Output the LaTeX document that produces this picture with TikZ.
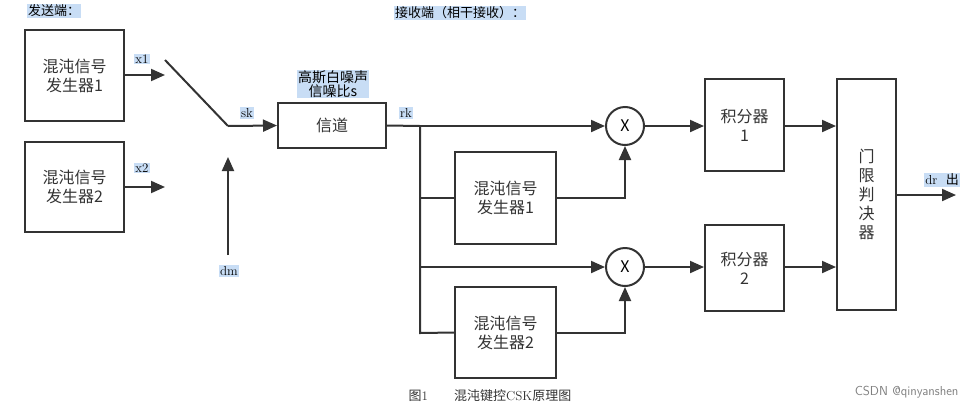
\documentclass[tikz,border=0pt]{standalone}
\usepackage{fontspec}
\newfontfamily\cjk{Noto Sans CJK SC}
\usetikzlibrary{arrows.meta}
\definecolor{hl}{RGB}{200,221,245}
\definecolor{ln}{RGB}{51,51,51}
\begin{document}
\begin{tikzpicture}[x=1pt,y=-1pt,
  box/.style={draw=ln,line width=2pt,inner sep=0pt,font=\cjk\fontsize{16}{19}\selectfont,align=center,text=ln},
  con/.style={draw=ln,line width=2pt},
  arr/.style={con,-{Triangle[length=14pt,width=12pt]}},
  lab/.style={fill=hl,inner sep=1pt,font=\fontsize{13}{14}\selectfont},
  clab/.style={fill=hl,inner sep=1pt,font=\cjk\fontsize{13}{14}\selectfont,align=center}]
\useasboundingbox (0,0) rectangle (968,410);
\node[clab,anchor=west] (t1) at (27,11) {发送端：};
\node[clab,anchor=west] (t2) at (394,13) {接收端（相干接收）：};
\node[box,minimum width=99pt,minimum height=91pt] (g1) at (74.5,75.5) {混沌信号\\发生器1};
\node[box,minimum width=99pt,minimum height=90pt] (g2) at (74.5,187) {混沌信号\\发生器2};
\coordinate (x1e) at (165,75); \coordinate (x2e) at (165,187);
\draw[arr] (g1.east|-x1e) -- (x1e);
\draw[arr] (g2.east|-x2e) -- (x2e);
\node[lab] (lx1) at (142,59) {x1};
\node[lab] (lx2) at (142,168) {x2};
\coordinate (sw0) at (165,60); \coordinate (sw1) at (228,126);
\draw[con] (sw0) -- (sw1);
\node[box,minimum width=108pt,minimum height=45pt] (ch) at (332,125.5) {信道};
\draw[arr] (sw1) -- (ch.west);
\node[lab] (lsk) at (247,113) {sk};
\coordinate (dm0) at (228,255); \coordinate (dm1) at (228,157);
\draw[arr] (dm0) -- (dm1);
\node[lab] (ldm) at (229,271) {dm};
\node[clab,font=\cjk\fontsize{14}{14}\selectfont] (noise) at (333,84) {高斯白噪声\\信噪比s};
\node[lab] (lrk) at (406,113) {rk};
\node[draw=ln,line width=2pt,circle,minimum size=38pt,inner sep=0pt,font=\cjk\fontsize{16}{16}\selectfont] (m1) at (625,126) {X};
\node[draw=ln,line width=2pt,circle,minimum size=38pt,inner sep=0pt,font=\cjk\fontsize{16}{16}\selectfont] (m2) at (625,267) {X};
\node[box,minimum width=101pt,minimum height=92pt] (r1) at (505.5,198) {混沌信号\\发生器1};
\node[box,minimum width=101pt,minimum height=91pt] (r2) at (505.5,332.5) {混沌信号\\发生器2};
\coordinate (b0) at (420,126); \coordinate (b1) at (420,333);
\coordinate (b2) at (420,267); \coordinate (b3) at (420,198);
\draw[con] (ch.east) -- (b0);
\draw[arr] (b0) -- (m1.west);
\draw[con] (b0) -- (b1) -- (r2.west);
\draw[con] (b3) -- (r1.west);
\draw[arr] (b2) -- (m2.west);
\draw[arr] (r1.east) -| (m1.south);
\draw[arr] (r2.east) -| (m2.south);
\node[box,minimum width=79pt,minimum height=92pt] (i1) at (744.5,125) {积分器\\1};
\node[box,minimum width=79pt,minimum height=86pt] (i2) at (744.5,268) {积分器\\2};
\node[box,minimum width=59pt,minimum height=231pt] (gt) at (866.5,194.5) {门\\限\\判\\决\\器};
\draw[arr] (m1.east) -- (i1.west|-m1);
\draw[arr] (m2.east) -- (i2.west|-m2);
\draw[arr] (i1.east|-m1) -- (gt.west|-m1);
\draw[arr] (i2.east|-m2) -- (gt.west|-m2);
\coordinate (dr) at (956,195);
\draw[arr] (gt.east|-dr) -- (dr);
\node[fill=hl,inner sep=1pt,anchor=east] (ldr) at (960,180) {\fontsize{13}{14}\selectfont dr\ \ \cjk 出};
\node[font=\fontsize{13}{14}\selectfont,text=ln] (cap) at (490,396) {{\cjk 图}1\qquad{\cjk 混沌键控}CSK{\cjk 原理图}};
\node[anchor=east,font=\fontsize{13}{14}\selectfont\sffamily,text=gray] (wm) at (962,392) {CSDN @qinyanshen};
\end{tikzpicture}
\end{document}
